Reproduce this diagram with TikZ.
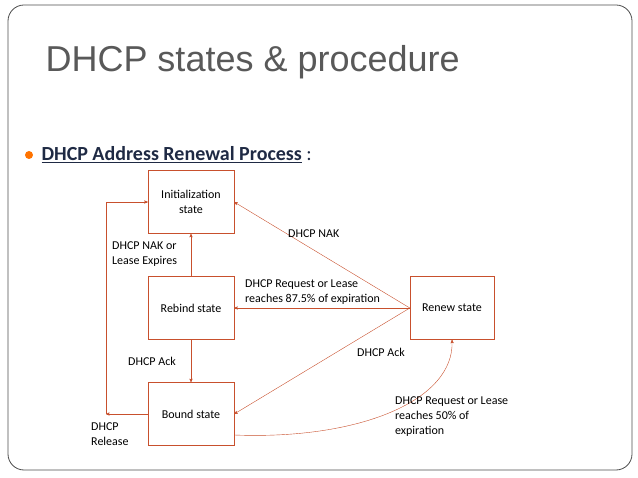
\documentclass[tikz,border=0pt]{standalone}
\usepackage{fontspec}
\setmainfont{Carlito}
\newfontfamily\titlefont{Liberation Sans}
\usetikzlibrary{arrows,positioning}
\definecolor{boxred}{HTML}{C8502D}
\definecolor{titlegray}{HTML}{595959}
\definecolor{headblue}{HTML}{1F2A44}
\begin{document}
\begin{tikzpicture}[x=1pt,y=-1pt,
  state/.style={draw=boxred,fill=white,minimum width=86pt,minimum height=63pt,align=center,font=\fontsize{12}{15}\selectfont},
  conn/.style={draw=boxred,->,>=stealth'},
  lbl/.style={font=\fontsize{12}{15}\selectfont,align=left,inner sep=0pt}]
\useasboundingbox (0,0) rectangle (638,478);
\draw[gray!60!black,rounded corners=16pt,line width=0.8pt] (8,5) rectangle (632,470);
\node[anchor=west,text=titlegray,font=\titlefont\fontsize{36}{39}\selectfont] (title) at (42,62) {DHCP states \& procedure};
\fill[orange!90!red] (29,155) circle (4pt);
\node[anchor=west,text=headblue,font=\fontsize{20}{23}\selectfont] (head) at (38,155) {\textbf{\underline{DHCP Address Renewal Process}} :};
% states
\node[state] (init) at (191,202) {Initialization\\state};
\node[state] (rebind) at (191,308) {Rebind state};
\node[state] (bound) at (191,414) {Bound state};
\node[state,minimum width=84pt] (renew) at (452,308) {Renew state};
\coordinate (rel) at (106,414);
% connectors
\draw[conn] (rebind) -- (init);
\draw[conn] (rebind) -- (bound);
\draw[conn] (renew.west) -- (rebind.east);
\draw[conn] (renew.west) -- (init.east);
\draw[conn] (renew.west) -- (bound.east);
\draw[conn] (bound.west) -- (rel);
\draw[conn] (rel) |- (init.west);
\draw[conn] ([yshift=-21pt]bound.east) .. controls (360,440) and (455,400) .. (renew.south);
% labels
\node[lbl,anchor=west] (nak) at (288,234) {DHCP NAK};
\node[lbl,anchor=north west] (nakle) at (112,242) {DHCP NAK or\\Lease Expires};
\node[lbl,anchor=north west] (req87) at (245,280) {DHCP Request or Lease\\reaches 87.5\% of expiration};
\node[lbl,anchor=west] (ack1) at (357,352) {DHCP Ack};
\node[lbl,anchor=west] (ack2) at (128,361) {DHCP Ack};
\node[lbl,anchor=north west] (req50) at (395,397) {DHCP Request or Lease\\reaches 50\% of\\expiration};
\node[lbl,anchor=north west] (release) at (91,423) {DHCP\\Release};
\end{tikzpicture}
\end{document}
